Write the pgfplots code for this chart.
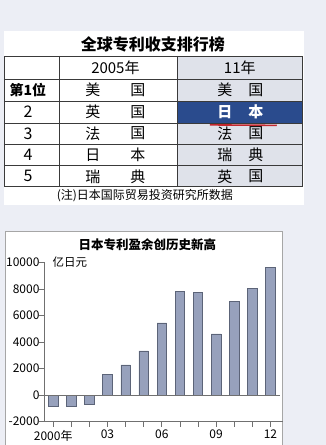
\documentclass[border=0pt]{standalone}
\usepackage{pgfplots}
\pgfplotsset{compat=1.18}
\usepackage{fontspec}
\setmainfont{Noto Sans CJK SC}
\definecolor{bg}{HTML}{ECEEF5}
\definecolor{barfill}{HTML}{97A1BC}
\definecolor{barline}{HTML}{5C6478}
\definecolor{cellgray}{HTML}{DFE2EA}
\definecolor{navy}{HTML}{2A4B8D}
\definecolor{redline}{HTML}{C3282E}
\definecolor{gridc}{HTML}{3A3A3A}
\definecolor{axc}{HTML}{707070}
\begin{document}
\begin{tikzpicture}
\fill[bg] (0,0) rectangle (326pt,445pt);
\begin{scope}[x=1pt,y=-1pt,yshift=445pt]
 % table
 \fill[white] (4,31) rectangle (304,205);
 \fill[cellgray] (178,56) rectangle (303,187);
 \fill[navy] (178,101) rectangle (303,123);
 \draw[gridc, line width=0.7pt] (4,56) rectangle (303,187);
 \foreach \yy in {79,101,123,144,166} {\draw[gridc, line width=0.7pt] (4,\yy) -- (303,\yy);}
 \draw[gridc, line width=0.7pt] (59,56) -- (59,187);
 \draw[gridc, line width=0.7pt] (178,56) -- (178,187);
 \draw[redline, line width=1.6pt] (210,125) -- (277,125.5);
 \node[font=\fontsize{16}{16}\selectfont\bfseries] at (153,44) {全球专利收支排行榜};
 \node[font=\fontsize{15}{15}\selectfont] at (115.5,67.5) {2005年};
 \node[font=\fontsize{15}{15}\selectfont] at (240,67.5) {11年};
 \node[font=\fontsize{14}{14}\selectfont\bfseries] at (28,90) {第1位};
 \foreach \r/\yy in {2/112,3/133.5,4/155,5/176.5} {\node[font=\fontsize{16}{16}\selectfont] at (28,\yy) {\r};}
 \foreach \a/\b/\yy in {美/国/90,英/国/112,法/国/133.5,日/本/155,瑞/典/176.5} {
   \node[font=\fontsize{15}{15}\selectfont] at (93,\yy) {\a};
   \node[font=\fontsize{15}{15}\selectfont] at (138,\yy) {\b};}
 \foreach \a/\b/\yy in {美/国/90,法/国/133.5,瑞/典/155,英/国/176.5} {
   \node[font=\fontsize{15}{15}\selectfont] at (225,\yy) {\a};
   \node[font=\fontsize{15}{15}\selectfont] at (256,\yy) {\b};}
 \node[font=\fontsize{15}{15}\selectfont\bfseries, text=white] at (225,112) {日};
 \node[font=\fontsize{15}{15}\selectfont\bfseries, text=white] at (256,112) {本};
 \node[font=\fontsize{12}{12}\selectfont] at (145,196) {(注)日本国际贸易投资研究所数据};
 % chart frame
 \fill[white] (5,232) rectangle (283,445);
 \draw[gray!70, line width=0.8pt] (5,445) -- (5,232) -- (283,232) -- (283,445);
 \node[font=\fontsize{12.5}{12.5}\selectfont\bfseries] at (147.5,245) {日本专利盈余创历史新高};
 \node[font=\fontsize{11.5}{11.5}\selectfont] at (70,262.5) {亿日元};
\end{scope}
\begin{axis}[
 at={(44pt,23pt)}, anchor=south west,
 scale only axis, width=239pt, height=159.3pt,
 xmin=1999.49, xmax=2012.68, ymin=-2000, ymax=10000,
 axis x line=bottom, axis y line=left,
 axis line style={-, draw=axc, line width=0.8pt},
 xtick={2000,...,2012}, xticklabels={2000年,,,03,,,06,,,09,,,12},
 ytick={-2000,0,...,10000},
 scaled y ticks=false,
 /pgf/number format/1000 sep={},
 /pgf/number format/assume math mode=true,
 tick align=inside,
 major tick length=5pt,
 tick style={draw=axc, line width=0.7pt},
 ytick style={xshift=-5pt},
 yticklabel style={xshift=-1pt},
 ticklabel style={font=\fontsize{12}{12}\selectfont},
 ybar, bar width=9.5pt,
 clip=false,
]
\addplot[fill=barfill, draw=barline, line width=0.6pt] coordinates {
 (2000,-830) (2001,-830) (2002,-700) (2003,1550) (2004,2280) (2005,3330)
 (2006,5440) (2007,7820) (2008,7740) (2009,4610) (2010,7040) (2011,8020) (2012,9620)};
\draw[axc, line width=0.8pt] (axis cs:1999.49,0) -- (axis cs:2012.55,0);
\end{axis}
\end{tikzpicture}
\end{document}
